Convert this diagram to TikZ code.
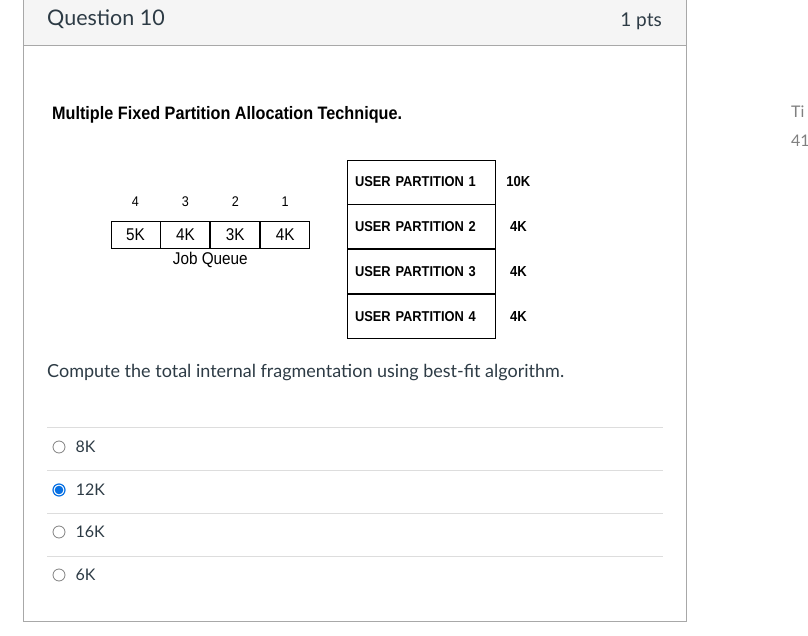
\documentclass[tikz,border=0pt]{standalone}
\usepackage{fontspec}
\setmainfont{Lato}
\newfontfamily\arialn[FakeStretch=0.9]{Liberation Sans}
\usetikzlibrary{positioning}
\definecolor{canvastext}{HTML}{2D3B45}
\definecolor{framegrey}{HTML}{A8A8A8}
\definecolor{headbg}{HTML}{F5F5F5}
\definecolor{rulegrey}{HTML}{DDDDDD}
\definecolor{radioblue}{HTML}{0770E3}

\begin{document}
\begin{tikzpicture}[x=1pt, y=-1pt,
  cell/.style={draw, line width=0.9pt, minimum width=49pt, minimum height=27pt, inner sep=0pt, font=\arialn\fontsize{17}{19}\selectfont},
  part/.style={draw, line width=0.9pt, text width=132pt, inner xsep=8pt, inner ysep=0pt, minimum height=44pt, align=left, font=\arialn\bfseries\fontsize{14.3}{16}\selectfont},
  psize/.style={font=\arialn\bfseries\fontsize{14.5}{16}\selectfont},
  jobnum/.style={inner sep=0pt, font=\arialn\fontsize{14}{16}\selectfont},
  radio/.style={circle, draw=gray, line width=0.8pt, minimum size=12pt, inner sep=0pt},
  choice/.style={anchor=west, inner sep=0pt, font=\fontsize{16}{18}\selectfont, text=canvastext}]
\useasboundingbox (0,0) rectangle (808,636);
% question frame
\fill[headbg] (23,-5) rectangle (686,46);
\draw[framegrey, line width=1pt] (23,-5) -- (23,621) -- (686,621) -- (686,-5);
\draw[framegrey, line width=1pt] (23,46) -- (686,46);
\node[anchor=base west, inner sep=0pt, font=\fontsize{21.5}{24}\selectfont, text=canvastext] (qtitle) at (47,26) {Question 10};
\node[anchor=base east, inner sep=0pt, font=\fontsize{19}{24}\selectfont, text=canvastext] (qpts) at (662,27) {1 pts};
\node[anchor=base west, inner sep=0pt, font=\arialn\bfseries\fontsize{18}{20}\selectfont] (heading) at (52,120) {Multiple Fixed Partition Allocation Technique.};

% job queue
\node[cell] (j4) at (135.5,234.5) {5K};
\node[cell, right=0pt of j4] (j3) {4K};
\node[cell, right=0pt of j3] (j2) {3K};
\node[cell, right=0pt of j2] (j1) {4K};
\node[jobnum, above=14pt of j4] (n4) {4};
\node[jobnum, above=14pt of j3] (n3) {3};
\node[jobnum, above=14pt of j2] (n2) {2};
\node[jobnum, above=14pt of j1] (n1) {1};
\node[below=4pt of j3.south east, inner sep=0pt, font=\arialn\fontsize{17}{19}\selectfont] (queue) {Job Queue};

% user partitions
\node[part] (p1) at (421,182) {USER PARTITION 1};
\node[part, below=0pt of p1] (p2) {USER PARTITION 2};
\node[part, below=0pt of p2] (p3) {USER PARTITION 3};
\node[part, below=0pt of p3] (p4) {USER PARTITION 4};
\node[psize] (s1) at ([xshift=23pt]p1.east) {10K};
\node[psize] (s2) at ([xshift=23pt]p2.east) {4K};
\node[psize] (s3) at ([xshift=23pt]p3.east) {4K};
\node[psize] (s4) at ([xshift=23pt]p4.east) {4K};

\node[anchor=base west, inner sep=0pt, font=\fontsize{18}{20}\selectfont, text=canvastext] (ask) at (47,377) {Compute the total internal fragmentation using best-fit algorithm.};

% answers
\draw[rulegrey] (47,427) -- (663,427);
\draw[rulegrey] (47,470) -- (663,470);
\draw[rulegrey] (47,513) -- (663,513);
\draw[rulegrey] (47,556) -- (663,556);
\node[radio] (r1) at (59,447) {};
\node[radio, draw=radioblue, line width=1.2pt] (r2) at (59,490) {};
\fill[radioblue] (r2.center) circle (4.3pt);
\node[radio] (r3) at (59,532) {};
\node[radio] (r4) at (59,575) {};
\node[choice, right=10pt of r1] (a1) {8K};
\node[choice, right=10pt of r2] (a2) {12K};
\node[choice, right=10pt of r3] (a3) {16K};
\node[choice, right=10pt of r4] (a4) {6K};

% side text, cut at the edge
\node[anchor=base west, inner sep=0pt, font=\fontsize{16}{18}\selectfont, text=gray] (side1) at (791,118) {Ti};
\node[anchor=base west, inner sep=0pt, font=\fontsize{16}{18}\selectfont, text=gray] (side2) at (791,147) {41};
\end{tikzpicture}
\end{document}
